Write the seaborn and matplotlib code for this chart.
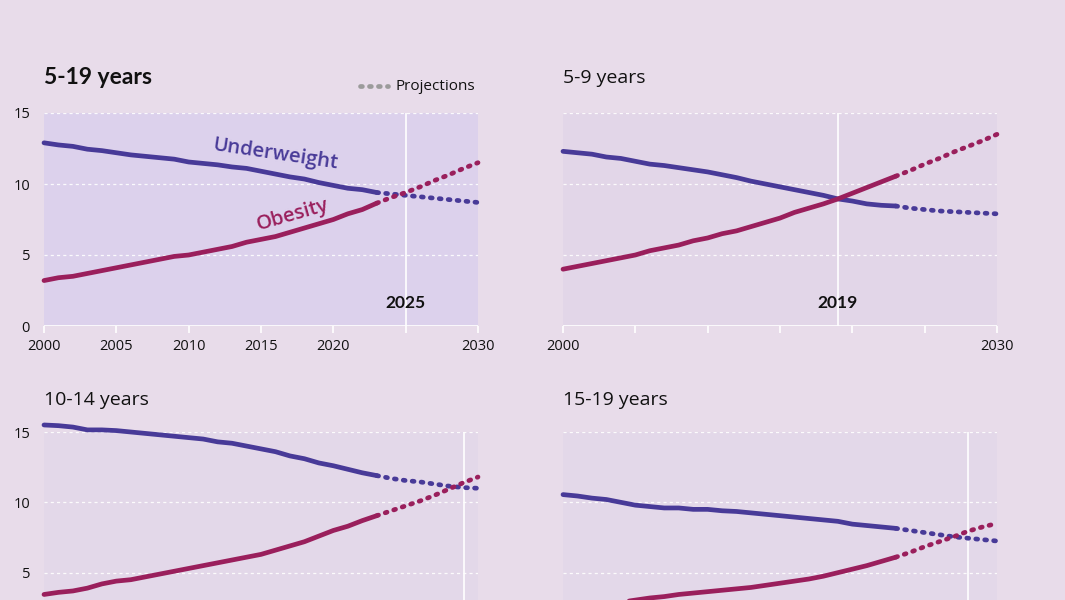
import matplotlib
matplotlib.use("Agg")
import matplotlib.pyplot as plt
import seaborn as sns
import pandas as pd

sns.set_theme(style="white")
plt.rcParams['font.family'] = ['Open Sans', 'DejaVu Sans']
BOLD_FAMILY = ['Lato', 'DejaVu Sans']

# ---------------- data ----------------
years_obs = list(range(2000, 2024))
years_proj = list(range(2023, 2031))

panels = ["5-19 years", "5-9 years", "10-14 years", "15-19 years"]
cross_years = [2025, 2019, 2029, 2028]

uw_5_19 = [12.9, 12.75, 12.65, 12.45, 12.35, 12.2, 12.05, 11.95, 11.85, 11.75, 11.55, 11.45,
           11.35, 11.2, 11.1, 10.9, 10.7, 10.5, 10.35, 10.1, 9.9, 9.7, 9.6, 9.4]
uw_5_19_proj = [9.4, 9.3, 9.2, 9.1, 9.0, 8.9, 8.8, 8.7]
ob_5_19 = [3.2, 3.4, 3.5, 3.7, 3.9, 4.1, 4.3, 4.5, 4.7, 4.9, 5.0, 5.2,
           5.4, 5.6, 5.9, 6.1, 6.3, 6.6, 6.9, 7.2, 7.5, 7.9, 8.2, 8.65]
ob_5_19_proj = [8.65, 9.05, 9.4, 9.8, 10.25, 10.65, 11.1, 11.5]

uw_5_9 = [12.3, 12.2, 12.1, 11.9, 11.8, 11.6, 11.4, 11.3, 11.15, 11.0, 10.85, 10.65,
          10.45, 10.2, 10.0, 9.8, 9.6, 9.4, 9.2, 8.95, 8.8, 8.6, 8.5, 8.45]
uw_5_9_proj = [8.45, 8.3, 8.2, 8.1, 8.05, 8.0, 7.95, 7.9]
ob_5_9 = [4.0, 4.2, 4.4, 4.6, 4.8, 5.0, 5.3, 5.5, 5.7, 6.0, 6.2, 6.5,
          6.7, 7.0, 7.3, 7.6, 8.0, 8.3, 8.6, 8.95, 9.35, 9.75, 10.15, 10.55]
ob_5_9_proj = [10.55, 10.95, 11.4, 11.8, 12.25, 12.65, 13.05, 13.5]

uw_10_14 = [15.5, 15.45, 15.35, 15.15, 15.15, 15.1, 15.0, 14.9, 14.8, 14.7, 14.6, 14.5,
            14.3, 14.2, 14.0, 13.8, 13.6, 13.3, 13.1, 12.8, 12.6, 12.35, 12.1, 11.9]
uw_10_14_proj = [11.9, 11.7, 11.55, 11.45, 11.3, 11.15, 11.05, 11.0]
ob_10_14 = [3.45, 3.6, 3.7, 3.9, 4.2, 4.4, 4.5, 4.7, 4.9, 5.1, 5.3, 5.5,
            5.7, 5.9, 6.1, 6.3, 6.6, 6.9, 7.2, 7.6, 8.0, 8.3, 8.7, 9.05]
ob_10_14_proj = [9.05, 9.4, 9.75, 10.1, 10.5, 10.95, 11.4, 11.8]

uw_15_19 = [10.55, 10.45, 10.3, 10.2, 10.0, 9.8, 9.7, 9.6, 9.6, 9.5, 9.5, 9.4,
            9.35, 9.25, 9.15, 9.05, 8.95, 8.85, 8.75, 8.65, 8.45, 8.35, 8.25, 8.15]
uw_15_19_proj = [8.15, 8.0, 7.85, 7.7, 7.55, 7.45, 7.35, 7.25]
ob_15_19 = [2.4, 2.5, 2.6, 2.75, 2.9, 3.05, 3.2, 3.3, 3.45, 3.55, 3.65, 3.75,
            3.85, 3.95, 4.1, 4.25, 4.4, 4.55, 4.75, 5.0, 5.25, 5.5, 5.8, 6.1]
ob_15_19_proj = [6.1, 6.45, 6.85, 7.2, 7.55, 7.95, 8.25, 8.5]

series = [
    (uw_5_19, uw_5_19_proj, ob_5_19, ob_5_19_proj),
    (uw_5_9, uw_5_9_proj, ob_5_9, ob_5_9_proj),
    (uw_10_14, uw_10_14_proj, ob_10_14, ob_10_14_proj),
    (uw_15_19, uw_15_19_proj, ob_15_19, ob_15_19_proj),
]

x_ticks = [2000, 2005, 2010, 2015, 2020, 2025, 2030]
y_ticks = [0, 5, 10, 15]

# ---------------- style ----------------
FIG_BG = "#e8dcea"
PANEL_BG = ["#dcd1ec", "#e2d6e8", "#e3d8e9", "#e3d8e9"]
UW_C = "#483a98"
OB_C = "#9a1f5c"
LW = 3.4
DOT = (0, (0.4, 1.5))

fig = plt.figure(figsize=(10.65, 6.0), dpi=100)
fig.patch.set_facecolor(FIG_BG)

W, H = 1065, 600
def rect(x0, x1, ytop, ybot):
    return [x0 / W, 1 - ybot / H, (x1 - x0) / W, (ybot - ytop) / H]

positions = [
    rect(44, 478, 113, 326),
    rect(563, 997, 113, 326),
    rect(44, 478, 432, 643),
    rect(563, 997, 432, 643),
]
title_y = [77, 78, 400, 400]

for i, pos in enumerate(positions):
    ax = fig.add_axes(pos)
    ax.set_facecolor(PANEL_BG[i])
    uw, uwp, ob, obp = series[i]
    top_row = i < 2
    left_col = i % 2 == 0

    df_obs = pd.DataFrame({"year": years_obs * 2,
                           "value": uw + ob,
                           "kind": ["Underweight"] * len(uw) + ["Obesity"] * len(ob)})
    df_proj = pd.DataFrame({"year": years_proj * 2,
                            "value": uwp + obp,
                            "kind": ["Underweight"] * len(uwp) + ["Obesity"] * len(obp)})
    pal = {"Underweight": UW_C, "Obesity": OB_C}
    sns.lineplot(data=df_obs, x="year", y="value", hue="kind", palette=pal,
                 linewidth=LW, legend=False, ax=ax, solid_capstyle="round", zorder=4)
    sns.lineplot(data=df_proj, x="year", y="value", hue="kind", palette=pal,
                 linewidth=LW, legend=False, ax=ax, linestyle=DOT,
                 dash_capstyle="round", zorder=4)
    for ln in ax.lines:
        ln.set_clip_on(False)

    ax.set_xlim(2000, 2030)
    ax.set_ylim(0, 15)
    ax.set_xlabel("")
    ax.set_ylabel("")
    for s in ax.spines.values():
        s.set_visible(False)

    # grid
    for yv in y_ticks[1:]:
        ax.axhline(yv, color="white", lw=0.9, ls=(0, (2.5, 2.5)), alpha=0.9, zorder=1)
    ax.axhline(0, color="white", lw=1.2, zorder=2)
    ax.axvline(cross_years[i], color="white", lw=1.2, zorder=2)
    if top_row:
        ax.text(cross_years[i], 1.6, str(cross_years[i]), ha="center", va="center",
                fontsize=12.5, fontweight="bold", family=BOLD_FAMILY,
                color="#111111", zorder=5)

    ax.set_xticks(x_ticks)
    if top_row and left_col:
        ax.set_xticklabels(["2000", "2005", "2010", "2015", "2020", "", "2030"])
    elif top_row:
        ax.set_xticklabels(["2000", "", "", "", "", "", "2030"])
    else:
        ax.set_xticklabels([])
    ax.tick_params(axis="x", length=5, width=1.2, color="white", pad=4,
                   labelsize=10.5, labelcolor="#111111", bottom=True, direction="out")
    ax.set_yticks(y_ticks)
    if left_col and top_row:
        ax.set_yticklabels([str(v) for v in y_ticks])
    elif left_col:
        ax.set_yticklabels(["", "5", "10", "15"])
    else:
        ax.set_yticklabels([])
    ax.tick_params(axis="y", length=0, pad=10, labelsize=10.5, labelcolor="#111111")

    ty = 1.0 + (113 - title_y[i]) / 213 if top_row else 1.0 + (432 - title_y[i]) / 211
    if i == 0:
        ax.text(0, ty, panels[i], transform=ax.transAxes, ha="left", va="center",
                fontsize=16.5, fontweight="bold", family=BOLD_FAMILY, color="#111111")
    else:
        ax.text(0, ty, panels[i], transform=ax.transAxes, ha="left", va="center",
                fontsize=14, color="#111111")

    if i == 0:
        ax.text(2016.0, 12.1, "Underweight", color=UW_C, fontsize=14.5,
                fontweight="semibold", rotation=-8.5, ha="center", va="center",
                rotation_mode="anchor", zorder=5)
        ax.text(2017.2, 7.8, "Obesity", color=OB_C, fontsize=14.5,
                fontweight="semibold", rotation=16, ha="center", va="center",
                rotation_mode="anchor", zorder=5)
        yl = 1.0 + (113 - 86) / 213
        ax.plot([0.728, 0.793], [yl, yl], transform=ax.transAxes, color="#9b9b9b",
                lw=3.4, ls=DOT, dash_capstyle="round", clip_on=False)
        ax.text(0.811, yl, "Projections", transform=ax.transAxes, ha="left",
                va="center", fontsize=11, color="#111111")

fig.savefig("out.png", dpi=100, facecolor=FIG_BG)
